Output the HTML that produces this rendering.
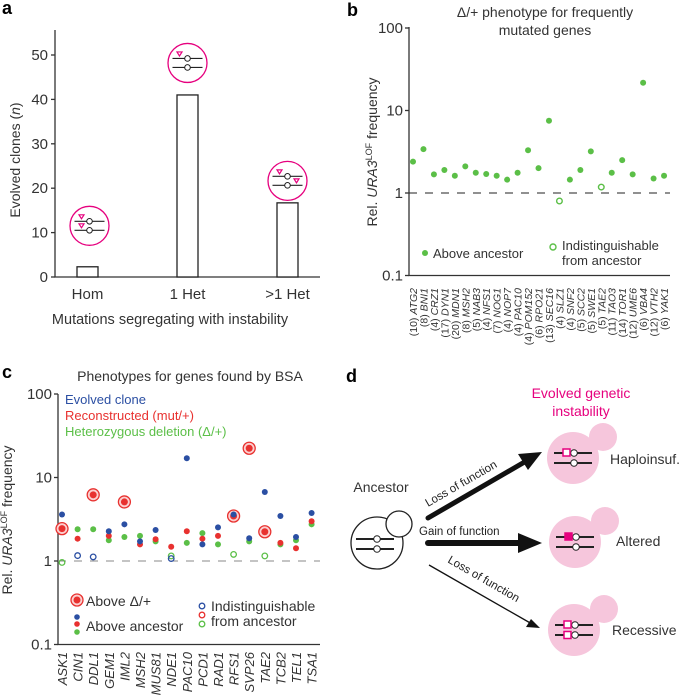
<!DOCTYPE html>
<html><head><meta charset="utf-8"><style>
body{margin:0;background:#fff}
svg{font-family:"Liberation Sans",sans-serif;display:block}
</style></head><body>
<svg width="685" height="698" viewBox="0 0 685 698">
<g>
<text x="2" y="14" font-size="18" font-weight="bold">a</text>
<g id="aAxis"></g>
<text transform="translate(20,160) rotate(-90)" text-anchor="middle" font-size="14" fill="#333">Evolved clones (<tspan font-style="italic">n</tspan>)</text>
<text x="170" y="324" text-anchor="middle" font-size="14.5" fill="#333">Mutations segregating with instability</text>
</g>
<g>
<text x="347" y="16" font-size="18" font-weight="bold">b</text>
<text x="545" y="17" text-anchor="middle" font-size="14" fill="#333">Δ/+ phenotype for frequently</text>
<text x="545" y="35" text-anchor="middle" font-size="14" fill="#333">mutated genes</text>
<text transform="translate(377,152) rotate(-90)" text-anchor="middle" font-size="14" fill="#333">Rel. <tspan font-style="italic">URA3</tspan><tspan font-size="9" dy="-5">LOF</tspan><tspan dy="5"> frequency</tspan></text>
<g id="bChart"></g>
<circle cx="425" cy="253" r="3" fill="#5bbf47"/>
<text x="433" y="258" font-size="13" fill="#333">Above ancestor</text>
<circle cx="553" cy="247" r="3" fill="none" stroke="#5bbf47" stroke-width="1.4"/>
<text x="562" y="250" font-size="13" fill="#333">Indistinguishable</text>
<text x="562" y="265" font-size="13" fill="#333">from ancestor</text>
</g>
<g>
<text x="2" y="378" font-size="18" font-weight="bold">c</text>
<text x="190" y="381" text-anchor="middle" font-size="14" fill="#333">Phenotypes for genes found by BSA</text>
<text x="65" y="404" font-size="13" fill="#2b4fa3">Evolved clone</text>
<text x="65" y="420" font-size="13" fill="#e8312f">Reconstructed (mut/+)</text>
<text x="65" y="436" font-size="13" fill="#5bbf47">Heterozygous deletion (Δ/+)</text>
<text transform="translate(12,520) rotate(-90)" text-anchor="middle" font-size="14" fill="#333">Rel. <tspan font-style="italic">URA3</tspan><tspan font-size="9" dy="-5">LOF</tspan><tspan dy="5"> frequency</tspan></text>
<g id="cChart"></g>
<circle cx="77" cy="600" r="6" fill="#fcd0d0" stroke="#e8312f" stroke-width="1.3"/>
<circle cx="77" cy="600" r="3.5" fill="#e8312f"/>
<text x="86" y="606" font-size="14" fill="#333">Above Δ/+</text>
<circle cx="77" cy="617" r="2.8" fill="#2b4fa3"/>
<circle cx="77" cy="624" r="2.8" fill="#e8312f"/>
<circle cx="77" cy="632" r="2.8" fill="#5bbf47"/>
<text x="86" y="631" font-size="14" fill="#333">Above ancestor</text>
<circle cx="202" cy="606" r="2.8" fill="none" stroke="#2b4fa3" stroke-width="1.3"/>
<circle cx="202" cy="615" r="2.8" fill="none" stroke="#e8312f" stroke-width="1.3"/>
<circle cx="202" cy="624" r="2.8" fill="none" stroke="#5bbf47" stroke-width="1.3"/>
<text x="211" y="611" font-size="14" fill="#333">Indistinguishable</text>
<text x="211" y="626" font-size="14" fill="#333">from ancestor</text>
</g>
<g>
<text x="346" y="382" font-size="18" font-weight="bold">d</text>
<text x="581" y="398" text-anchor="middle" font-size="14" fill="#e6007e">Evolved genetic</text>
<text x="581" y="416" text-anchor="middle" font-size="14" fill="#e6007e">instability</text>
<text x="381" y="492" text-anchor="middle" font-size="14" fill="#333">Ancestor</text>
<g>
<circle cx="377" cy="543" r="26" fill="#fff" stroke="#222" stroke-width="1.3"/>
<circle cx="399" cy="524" r="13" fill="#fff" stroke="#222" stroke-width="1.3"/>
<line x1="356" y1="539" x2="394" y2="539" stroke="#222" stroke-width="2"/>
<line x1="356" y1="549" x2="394" y2="549" stroke="#222" stroke-width="2"/>
<circle cx="377" cy="539" r="3.3" fill="#fff" stroke="#222"/>
<circle cx="377" cy="549" r="3.3" fill="#fff" stroke="#222"/>
</g>
<g>
<line x1="428" y1="518" x2="528" y2="460" stroke="#111" stroke-width="5" stroke-linecap="round"/>
<polygon points="542,452 518,454 528,470" fill="#111"/>
<text transform="translate(428,507) rotate(-30)" font-size="11.5" fill="#222">Loss of function</text>
</g>
<g>
<line x1="428" y1="543" x2="525" y2="543" stroke="#111" stroke-width="6" stroke-linecap="round"/>
<polygon points="542,543 518,533 518,553" fill="#111"/>
<text x="419" y="535" font-size="11.5" fill="#222">Gain of function</text>
</g>
<g>
<line x1="429" y1="565" x2="532" y2="624" stroke="#111" stroke-width="1.3"/>
<polygon points="540,628 526,627 531,619" fill="#111"/>
<text transform="translate(447,562) rotate(30)" font-size="11.5" fill="#222">Loss of function</text>
</g>
<g id="dCells"></g>
<text x="610" y="464" font-size="14" fill="#333">Haploinsuf.</text>
<text x="616" y="546" font-size="14" fill="#333">Altered</text>
<text x="612" y="635" font-size="14" fill="#333">Recessive</text>
</g>
</svg>
<script>
const NS="http://www.w3.org/2000/svg";
function mk(parent,tag,attrs,text){const e=document.createElementNS(NS,tag);for(const k in attrs)e.setAttribute(k,attrs[k]);if(text!==undefined)e.textContent=text;parent.appendChild(e);return e;}

const aCategories=["Hom","1 Het",">1 Het"];
const aValues=[2.3,41,16.7];
const aTicks=[0,10,20,30,40,50];
const bGenes=["(10) ATG2","(8) BNI1","(4) CRZ1","(17) DYN1","(20) MDN1","(8) MSH2","(5) NAB3","(4) NFS1","(7) NOG1","(4) NOP7","(4) PAC10","(4) POM152","(6) RPO21","(13) SEC16","(4) SLZ1","(4) SNF2","(5) SCC2","(5) SWE1","(5) TAE2","(11) TAO3","(14) TOR1","(12) UME6","(6) VBA4","(12) VTH2","(6) YAK1"];
const bValues=[2.4,3.4,1.68,1.9,1.62,2.1,1.76,1.7,1.62,1.45,1.76,3.3,2.0,7.5,0.8,1.45,1.9,3.2,1.18,1.76,2.5,1.68,21.7,1.5,1.62];
const bAbove=[1,1,1,1,1,1,1,1,1,1,1,1,1,1,0,1,1,1,0,1,1,1,1,1,1];
const bTicks=[0.1,1,10,100];
const cGenes=["ASK1","CIN1","DDL1","GEM1","IML2","MSH2","MUS81","NDE1","PAC10","PCD1","RAD1","RFS1","SVP26","TAE2","TCB2","TEL1","TSA1"];
const cEvolved=[3.6,1.16,1.12,2.27,2.75,1.72,2.35,1.07,17,1.58,2.53,3.6,1.87,6.7,3.46,1.94,3.76];
const cEvolvedStatus=[1,0,0,1,1,1,1,0,1,1,1,1,1,1,1,1,1];
const cRecon=[2.44,1.85,6.2,2.0,5.1,1.58,1.82,1.48,2.27,1.85,2.0,3.46,22.4,2.24,1.65,1.42,2.99];
const cReconStatus=[2,1,2,1,2,1,1,1,1,1,1,2,2,2,1,1,1];
const cHet=[0.96,2.4,2.4,1.77,1.94,2.0,1.72,1.15,1.65,2.16,1.58,1.2,1.72,1.15,1.58,1.77,2.75];
const cHetStatus=[0,1,1,1,1,1,1,0,1,1,1,0,1,0,1,1,1];
const cTicks=[0.1,1,10,100];

(function(){
const g=document.getElementById('aAxis');
const x0=55,y0=277,pxPer=44.4/10;
const yS=v=>y0-v*pxPer;
const xC=i=>87.5+i*100;
let ax=mk(g,'path',{d:`M${x0},30 V${y0} H320`,stroke:'#333',fill:'none','stroke-width':1.3});

aTicks.forEach(t=>{
 let l=mk(g,'line',{x1:x0-4,x2:x0,y1:yS(t),y2:yS(t),stroke:'#333','stroke-width':1.3});
 
 let tx=mk(g,'text',{x:x0-7,y:yS(t)+5,'text-anchor':'end','font-size':15,fill:'#333'},t);
 
});
aCategories.forEach((c,i)=>{
 let r=mk(g,'rect',{x:xC(i)-10.5,y:yS(aValues[i]),width:21,height:aValues[i]*pxPer,fill:'#fff',stroke:'#222','stroke-width':1.3});
 
 let t=mk(g,'text',{x:xC(i),y:299,'text-anchor':'middle','font-size':15,fill:'#333'},c);
 
 const cy=yS(aValues[i])-(i===0?41:i===1?32:22), cx=xC(i)+(i===0?2:0);
 let ic=mk(g,'g',{});
 
 mk(ic,'circle',{cx:cx,cy:cy,r:19.5,fill:'#fff',stroke:'#e6007e','stroke-width':1.3});
 mk(ic,'line',{x1:cx-15,x2:cx+15,y1:cy-4.5,y2:cy-4.5,stroke:'#222','stroke-width':1.1});
 mk(ic,'line',{x1:cx-15,x2:cx+15,y1:cy+4.5,y2:cy+4.5,stroke:'#222','stroke-width':1.1});
 mk(ic,'circle',{cx:cx+0,cy:cy-4.5,r:2.8,fill:'#fff',stroke:'#222'});
 mk(ic,'circle',{cx:cx+0,cy:cy+4.5,r:2.8,fill:'#fff',stroke:'#222'});
 const tri=(tx,ty)=>mk(ic,'path',{d:`M${tx-2.5},${ty-3} h5 l-2.5,4 z`,fill:'none',stroke:'#e6007e','stroke-width':1.2});
 if(i===0){tri(cx-8,cy-8);tri(cx-8,cy+1);}
 else if(i===1){tri(cx-8,cy-8);}
 else {tri(cx-8,cy-8);tri(cx+9,cy+1);}
});
})();

(function(){
const g=document.getElementById('bChart');
const x0=409,top=27,y1=193,dec=82.5;
const yS=v=>y1-Math.log10(v)*dec;
const xS=i=>413+i*10.46;
let ax=mk(g,'path',{d:`M${x0},${top} V${yS(0.1)} H670`,stroke:'#333',fill:'none','stroke-width':1.3});

bTicks.forEach(t=>{
 let l=mk(g,'line',{x1:x0-4,x2:x0,y1:yS(t),y2:yS(t),stroke:'#333','stroke-width':1.3});
 
 let tx=mk(g,'text',{x:x0-6,y:yS(t)+5,'text-anchor':'end','font-size':15,fill:'#333'},t);
 
});
let ref=mk(g,'line',{x1:x0,x2:670,y1:yS(1),y2:yS(1),stroke:'#222','stroke-width':1,'stroke-dasharray':'8,8'});

bGenes.forEach((gn,i)=>{
 const x=xS(i),y=yS(bValues[i]);
 let p=bAbove[i]?mk(g,'circle',{cx:x,cy:y,r:3,fill:'#5bbf47'}):mk(g,'circle',{cx:x,cy:y,r:2.8,fill:'none',stroke:'#5bbf47','stroke-width':1.4});
 
 const parts=gn.split(' ');
 let t=mk(g,'text',{transform:`translate(${x+4},288) rotate(-90)`,'text-anchor':'end','font-size':10.5,fill:'#333'});
 
 mk(t,'tspan',{},parts[0]+' ');mk(t,'tspan',{'font-style':'italic'},parts[1]);
});
})();

(function(){
const g=document.getElementById('cChart');
const x0=58,y1=561,dec=83.5;
const yS=v=>y1-Math.log10(v)*dec;
const xS=i=>62+i*15.6;
let ax=mk(g,'path',{d:`M${x0},394 V${yS(0.1)} H320`,stroke:'#333',fill:'none','stroke-width':1.3});

cTicks.forEach(t=>{
 let l=mk(g,'line',{x1:x0-4,x2:x0,y1:yS(t),y2:yS(t),stroke:'#333','stroke-width':1.3});
 
 let tx=mk(g,'text',{x:x0-6,y:yS(t)+5,'text-anchor':'end','font-size':15,fill:'#333'},t);
 
});
let ref=mk(g,'line',{x1:x0,x2:320,y1:yS(1),y2:yS(1),stroke:'#888','stroke-width':1,'stroke-dasharray':'8,8'});

function pt(x,v,st,col,name){
 const y=yS(v);
 if(st===2){
  let r=mk(g,'circle',{cx:x,cy:y,r:6,fill:'#fcd0d0',stroke:col,'stroke-width':1.3});
  
  let d=mk(g,'circle',{cx:x,cy:y,r:3.5,fill:col});
  
 } else if(st===1){
  let d=mk(g,'circle',{cx:x,cy:y,r:3,fill:col});
  
 } else {
  let d=mk(g,'circle',{cx:x,cy:y,r:2.8,fill:'none',stroke:col,'stroke-width':1.3});
  
 }
}
cGenes.forEach((gn,i)=>{
 const x=xS(i);
 pt(x,cHet[i],cHetStatus[i],'#5bbf47','point-het-deletion');
 pt(x,cRecon[i],cReconStatus[i],'#e8312f','point-reconstructed');
 pt(x,cEvolved[i],cEvolvedStatus[i],'#2b4fa3','point-evolved');
 let t=mk(g,'text',{transform:`translate(${x+5},652) rotate(-90)`,'text-anchor':'end','font-size':13,'font-style':'italic',fill:'#333'},gn);
 
});
})();

(function(){
const g=document.getElementById('dCells');
const cells=[[573,458,'haploinsuf'],[575,542,'altered'],[574,630,'recessive']];
cells.forEach(([cx,cy,n])=>{
 let c=mk(g,'g',{});
 
 mk(c,'circle',{cx:cx+30,cy:cy-21,r:14,fill:'#f6c6dc'});
 mk(c,'circle',{cx:cx,cy:cy,r:26,fill:'#f6c6dc'});
 mk(c,'line',{x1:cx-19,x2:cx+19,y1:cy-5,y2:cy-5,stroke:'#222','stroke-width':2});
 mk(c,'line',{x1:cx-19,x2:cx+19,y1:cy+5,y2:cy+5,stroke:'#222','stroke-width':2});
 mk(c,'circle',{cx:cx+1,cy:cy-5,r:3.3,fill:'#fff',stroke:'#222'});
 mk(c,'circle',{cx:cx+1,cy:cy+5,r:3.3,fill:'#fff',stroke:'#222'});
 if(n==='haploinsuf') mk(c,'rect',{x:cx-10,y:cy-9,width:7,height:7,fill:'#fff',stroke:'#e6007e','stroke-width':1.5});
 if(n==='altered') mk(c,'rect',{x:cx-10,y:cy-9,width:7,height:7,fill:'#e6007e',stroke:'#e6007e','stroke-width':1.5});
 if(n==='recessive'){mk(c,'rect',{x:cx-10,y:cy-9,width:7,height:7,fill:'#fff',stroke:'#e6007e','stroke-width':1.5});mk(c,'rect',{x:cx-10,y:cy+1.5,width:7,height:7,fill:'#fff',stroke:'#e6007e','stroke-width':1.5});}
});
})();
</script>
</body></html>
